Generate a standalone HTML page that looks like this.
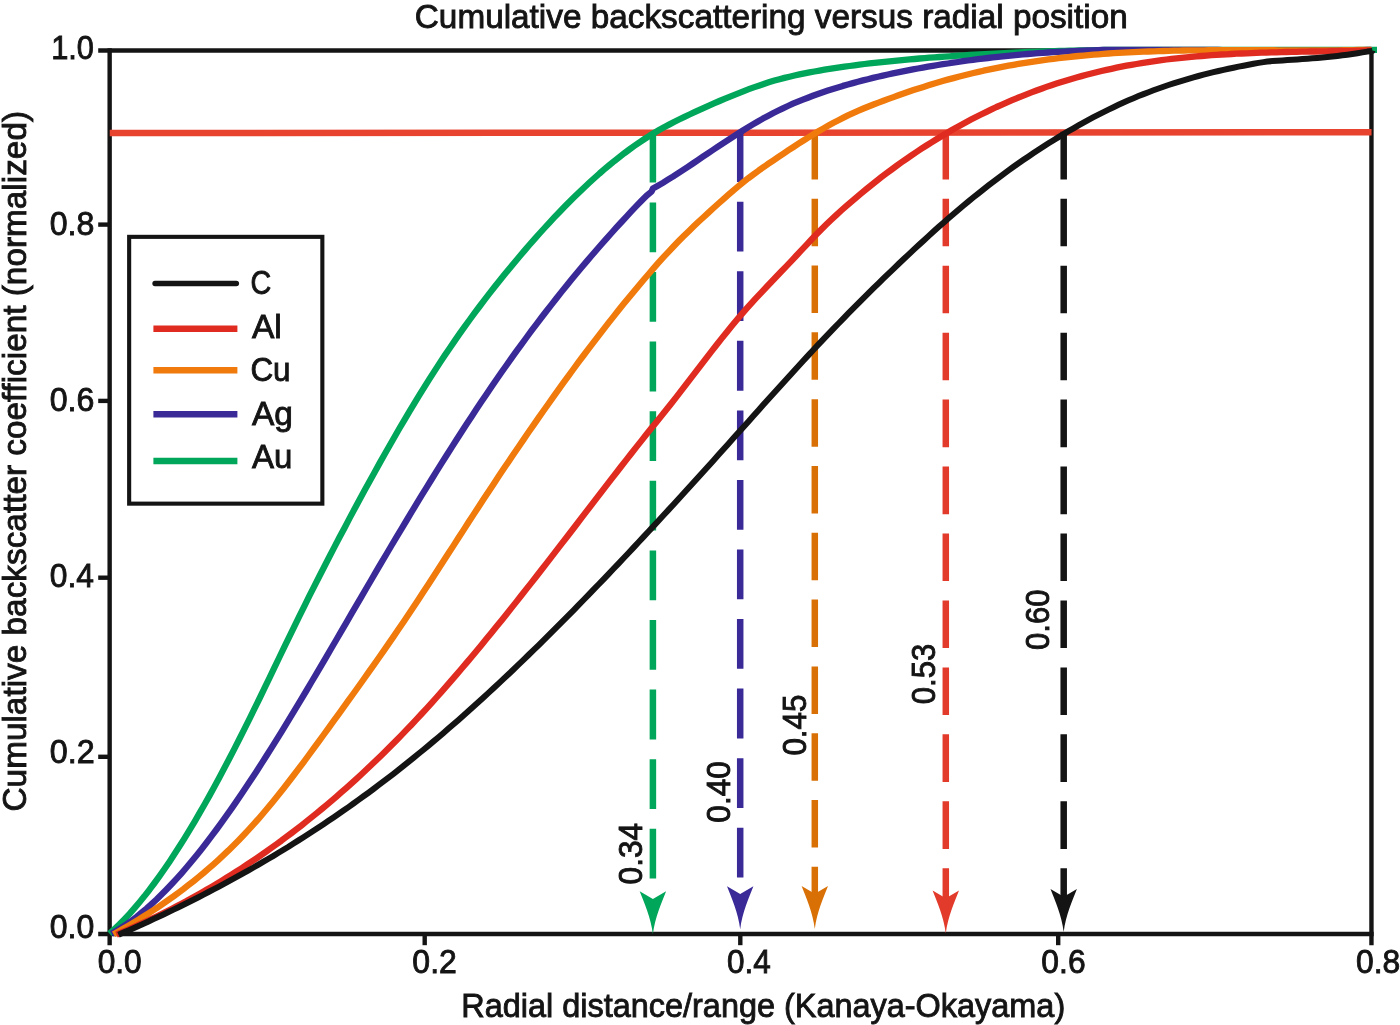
<!DOCTYPE html>
<html lang="en"><head><meta charset="utf-8">
<title>Cumulative backscattering versus radial position</title>
<style>
html,body{margin:0;padding:0;background:#fff;}
body{width:1400px;height:1025px;overflow:hidden;}
svg{display:block;}
text{font-family:'Liberation Sans', sans-serif;fill:#141414;stroke:#141414;stroke-width:0.90px;font-kerning:none;}
</style></head><body>
<svg width="1400" height="1025" viewBox="0 0 1400 1025">
<rect x="0" y="0" width="1400" height="1025" fill="#ffffff"/>
<g fill="none" stroke="#141414" stroke-width="4.40" stroke-linecap="butt">
<path d="M109.65 48.30 V945.2"/>
<path d="M1371.45 48.30 V945.2"/>
<path d="M98.2 50.50 H1373.65"/>
<path d="M98.2 934.00 H1373.65"/>
<path d="M424.70 934.00 V945.2"/>
<path d="M740.30 934.00 V945.2"/>
<path d="M1058.20 934.00 V945.2"/>
<path d="M98.2 756.80 H109.65"/>
<path d="M98.2 577.70 H109.65"/>
<path d="M98.2 400.90 H109.65"/>
<path d="M98.2 224.60 H109.65"/>
</g>
<path d="M109.75 133.1 L1371.55 132.2" stroke="#E8432E" stroke-width="6.5" fill="none"/>
<path d="M652.90 132.80 V878.60" stroke="#00A65A" stroke-width="6.5" stroke-dasharray="49.80 19.80" fill="none"/>
<path d="M652.90 934.30 C650.80 917.10 644.19 902.91 639.70 891.30 L652.90 899.10 L666.10 891.30 C661.61 902.91 655.00 917.10 652.90 934.30 Z" fill="#00A65A"/>
<path d="M740.20 132.20 V877.50" stroke="#392A98" stroke-width="6.5" stroke-dasharray="49.80 19.75" fill="none"/>
<path d="M740.20 929.20 C738.10 912.00 731.49 897.81 727.00 886.20 L740.20 894.00 L753.40 886.20 C748.91 897.81 742.30 912.00 740.20 929.20 Z" fill="#392A98"/>
<path d="M814.80 131.90 V905.00" stroke="#D97006" stroke-width="6.5" stroke-dasharray="47.50 19.31" fill="none"/>
<path d="M814.80 929.00 C812.70 911.80 806.09 897.61 801.60 886.00 L814.80 893.80 L828.00 886.00 C823.51 897.61 816.90 911.80 814.80 929.00 Z" fill="#D97006"/>
<path d="M945.80 131.80 V905.00" stroke="#E23A2B" stroke-width="6.5" stroke-dasharray="47.60 19.35" fill="none"/>
<path d="M945.80 933.50 C943.70 916.30 937.09 902.11 932.60 890.50 L945.80 898.30 L959.00 890.50 C954.51 902.11 947.90 916.30 945.80 933.50 Z" fill="#E23A2B"/>
<path d="M1063.70 131.80 V905.00" stroke="#141414" stroke-width="6.5" stroke-dasharray="47.60 19.35" fill="none"/>
<path d="M1063.70 932.00 C1061.60 914.80 1054.99 900.61 1050.50 889.00 L1063.70 896.80 L1076.90 889.00 C1072.41 900.61 1065.80 914.80 1063.70 932.00 Z" fill="#141414"/>
<path d="M109.5 933.6 L114.5 929.0 L119.5 924.2 L124.5 919.1 L129.5 913.8 L134.5 908.1 L139.5 902.2 L144.5 896.1 L149.5 889.7 L154.5 883.0 L159.5 876.1 L164.5 869.0 L169.5 861.7 L174.5 854.1 L179.5 846.3 L184.5 838.3 L189.5 830.2 L194.5 821.8 L199.5 813.2 L204.5 804.5 L209.5 795.6 L214.5 786.5 L219.5 777.2 L224.5 767.8 L229.5 758.3 L234.5 748.6 L239.5 738.8 L244.5 728.9 L249.5 718.8 L254.5 708.7 L259.5 698.5 L264.5 688.1 L269.5 677.8 L274.5 667.4 L279.5 657.0 L284.5 646.7 L289.5 636.3 L294.5 626.1 L299.5 615.9 L304.5 605.8 L309.5 595.7 L314.5 585.8 L319.5 576.0 L324.5 566.2 L329.5 556.5 L334.5 546.9 L339.5 537.3 L344.5 527.9 L349.5 518.4 L354.5 509.1 L359.5 499.8 L364.5 490.6 L369.5 481.5 L374.5 472.4 L379.5 463.4 L384.5 454.5 L389.5 445.7 L394.5 437.0 L399.5 428.3 L404.5 419.8 L409.5 411.4 L414.5 403.1 L419.5 394.9 L424.5 386.8 L429.5 378.9 L434.5 371.1 L439.5 363.4 L444.5 355.8 L449.5 348.4 L454.5 341.1 L459.5 333.9 L464.5 326.9 L469.5 320.0 L474.5 313.2 L479.5 306.5 L484.5 299.9 L489.5 293.4 L494.5 287.0 L499.5 280.7 L504.5 274.5 L509.5 268.4 L514.5 262.4 L519.5 256.5 L524.5 250.6 L529.5 244.8 L534.5 239.1 L539.5 233.5 L544.5 228.0 L549.5 222.6 L554.5 217.2 L559.5 212.0 L564.5 206.8 L569.5 201.7 L574.5 196.8 L579.5 191.9 L584.5 187.2 L589.5 182.5 L594.5 178.0 L599.5 173.5 L604.5 169.2 L609.5 165.0 L614.5 160.9 L619.5 157.0 L624.5 153.1 L629.5 149.4 L634.5 145.8 L639.5 142.3 L644.5 139.0 L649.5 135.8 L654.5 132.8 L659.5 129.8 L664.5 127.0 L669.5 124.4 L674.5 121.8 L679.5 119.3 L684.5 116.9 L689.5 114.5 L694.5 112.2 L699.5 109.9 L704.5 107.6 L709.5 105.4 L714.5 103.2 L719.5 101.0 L724.5 98.9 L729.5 96.8 L734.5 94.8 L739.5 92.8 L744.5 90.8 L749.5 88.9 L754.5 87.1 L759.5 85.4 L764.5 83.7 L769.5 82.1 L774.5 80.6 L779.5 79.2 L784.5 77.9 L789.5 76.7 L794.5 75.5 L799.5 74.4 L804.5 73.4 L809.5 72.4 L814.5 71.5 L819.5 70.6 L824.5 69.7 L829.5 68.9 L834.5 68.1 L839.5 67.4 L844.5 66.7 L849.5 66.0 L854.5 65.3 L859.5 64.7 L864.5 64.0 L869.5 63.4 L874.5 62.9 L879.5 62.3 L884.5 61.8 L889.5 61.3 L894.5 60.8 L899.5 60.3 L904.5 59.8 L909.5 59.4 L914.5 59.0 L919.5 58.5 L924.5 58.1 L929.5 57.7 L934.5 57.4 L939.5 57.0 L944.5 56.6 L949.5 56.3 L954.5 55.9 L959.5 55.6 L964.5 55.3 L969.5 55.0 L974.5 54.7 L979.5 54.4 L984.5 54.1 L989.5 53.9 L994.5 53.6 L999.5 53.3 L1004.5 53.1 L1009.5 52.9 L1014.5 52.6 L1019.5 52.4 L1024.5 52.2 L1029.5 52.0 L1034.5 51.8 L1039.5 51.7 L1044.5 51.5 L1049.5 51.3 L1054.5 51.2 L1059.5 51.0 L1064.5 50.9 L1069.5 50.7 L1074.5 50.6 L1079.5 50.5 L1084.5 50.4 L1089.5 50.3 L1094.5 50.1 L1099.5 50.1 L1104.5 50.0 L1109.5 49.9 L1114.5 49.8 L1119.5 49.8 L1124.5 49.8 L1129.5 49.8 L1134.5 49.8 L1139.5 49.8 L1144.5 49.8 L1149.5 49.8 L1154.5 49.8 L1159.5 49.8 L1164.5 49.8 L1169.5 49.8 L1174.5 49.8 L1179.5 49.8 L1184.5 49.8 L1189.5 49.8 L1194.5 49.8 L1199.5 49.8 L1204.5 49.8 L1209.5 49.8 L1214.5 49.8 L1219.5 49.8 L1224.5 49.8 L1229.5 49.8 L1234.5 49.8 L1239.5 49.8 L1244.5 49.8 L1249.5 49.8 L1254.5 49.8 L1259.5 49.8 L1264.5 49.8 L1269.5 49.8 L1274.5 49.8 L1279.5 49.8 L1284.5 49.8 L1289.5 49.8 L1294.5 49.8 L1299.5 49.8 L1304.5 49.8 L1309.5 49.8 L1314.5 49.8 L1319.5 49.8 L1324.5 49.8 L1329.5 49.8 L1334.5 49.8 L1339.5 49.8 L1344.5 49.8 L1349.5 49.8 L1354.5 49.8 L1359.5 49.8 L1364.5 49.8 L1369.5 49.8 L1374.5 49.8 L1377.0 49.8" stroke="#00A65A" stroke-width="6.3" fill="none" stroke-linejoin="round" stroke-linecap="butt"/>
<path d="M111.5 933.8 L116.5 930.8 L121.5 927.7 L126.5 924.3 L131.5 920.7 L136.5 916.9 L141.5 912.8 L146.5 908.6 L151.5 904.1 L156.5 899.5 L161.5 894.6 L166.5 889.5 L171.5 884.3 L176.5 878.9 L181.5 873.3 L186.5 867.5 L191.5 861.5 L196.5 855.4 L201.5 849.2 L206.5 842.8 L211.5 836.2 L216.5 829.5 L221.5 822.6 L226.5 815.7 L231.5 808.6 L236.5 801.4 L241.5 794.0 L246.5 786.6 L251.5 779.0 L256.5 771.4 L261.5 763.6 L266.5 755.8 L271.5 747.9 L276.5 739.9 L281.5 731.8 L286.5 723.6 L291.5 715.4 L296.5 707.2 L301.5 698.8 L306.5 690.5 L311.5 682.0 L316.5 673.6 L321.5 665.1 L326.5 656.6 L331.5 648.0 L336.5 639.5 L341.5 630.9 L346.5 622.3 L351.5 613.7 L356.5 605.1 L361.5 596.6 L366.5 588.0 L371.5 579.5 L376.5 570.9 L381.5 562.4 L386.5 554.0 L391.5 545.5 L396.5 537.1 L401.5 528.8 L406.5 520.5 L411.5 512.2 L416.5 503.9 L421.5 495.7 L426.5 487.6 L431.5 479.5 L436.5 471.4 L441.5 463.4 L446.5 455.5 L451.5 447.6 L456.5 439.8 L461.5 432.0 L466.5 424.3 L471.5 416.7 L476.5 409.1 L481.5 401.6 L486.5 394.2 L491.5 386.8 L496.5 379.5 L501.5 372.3 L506.5 365.2 L511.5 358.1 L516.5 351.1 L521.5 344.3 L526.5 337.5 L531.5 330.7 L536.5 324.1 L541.5 317.5 L546.5 311.0 L551.5 304.6 L556.5 298.2 L561.5 291.9 L566.5 285.7 L571.5 279.6 L576.5 273.5 L581.5 267.5 L586.5 261.6 L591.5 255.8 L596.5 250.0 L601.5 244.2 L606.5 238.6 L611.5 233.0 L616.5 227.4 L621.5 222.0 L626.5 216.6 L631.5 211.2 L636.5 205.9 L641.5 200.7 L646.5 195.7 L651.5 191.6 L652.9 188.6 L657.9 185.8 L662.9 182.9 L667.9 179.7 L672.9 176.6 L677.9 173.3 L682.9 170.1 L687.9 166.8 L692.9 163.5 L697.9 160.1 L702.9 156.7 L707.9 153.4 L712.9 150.0 L717.9 146.7 L722.9 143.4 L727.9 140.1 L732.9 136.8 L737.9 133.6 L742.9 130.5 L747.9 127.4 L752.9 124.4 L757.9 121.5 L762.9 118.6 L767.9 115.9 L772.9 113.2 L777.9 110.7 L782.9 108.3 L787.9 106.0 L792.9 103.7 L797.9 101.6 L802.9 99.6 L807.9 97.7 L812.9 95.8 L817.9 94.0 L822.9 92.3 L827.9 90.6 L832.9 89.0 L837.9 87.5 L842.9 85.9 L847.9 84.5 L852.9 83.1 L857.9 81.7 L862.9 80.4 L867.9 79.2 L872.9 77.9 L877.9 76.7 L882.9 75.6 L887.9 74.5 L892.9 73.4 L897.9 72.4 L902.9 71.4 L907.9 70.4 L912.9 69.4 L917.9 68.5 L922.9 67.6 L927.9 66.7 L932.9 65.9 L937.9 65.0 L942.9 64.2 L947.9 63.5 L952.9 62.7 L957.9 62.0 L962.9 61.2 L967.9 60.5 L972.9 59.9 L977.9 59.2 L982.9 58.6 L987.9 58.0 L992.9 57.4 L997.9 56.9 L1002.9 56.3 L1007.9 55.8 L1012.9 55.3 L1017.9 54.8 L1022.9 54.4 L1027.9 54.0 L1032.9 53.6 L1037.9 53.2 L1042.9 52.8 L1047.9 52.5 L1052.9 52.2 L1057.9 51.9 L1062.9 51.6 L1067.9 51.3 L1072.9 51.1 L1077.9 50.9 L1082.9 50.7 L1087.9 50.5 L1092.9 50.3 L1097.9 50.2 L1102.9 50.0 L1107.9 49.9 L1112.9 49.8 L1117.9 49.8 L1122.9 49.8 L1127.9 49.8 L1132.9 49.8 L1137.9 49.8 L1142.9 49.8 L1147.9 49.8 L1152.9 49.8 L1157.9 49.8 L1162.9 49.8 L1167.9 49.8 L1172.9 49.8 L1177.9 49.8 L1182.9 49.8 L1187.9 49.8 L1192.9 49.8 L1197.9 49.8 L1202.9 49.8 L1207.9 49.9 L1212.9 49.9 L1217.9 50.0 L1222.9 50.1 L1227.9 50.1 L1232.9 50.2 L1237.9 50.3 L1242.9 50.3 L1247.9 50.4 L1252.9 50.5 L1257.9 50.5 L1262.9 50.6 L1267.9 50.6 L1272.9 50.7 L1277.9 50.7 L1282.9 50.8 L1287.9 50.8 L1292.9 50.8 L1297.9 50.8 L1302.9 50.8 L1307.9 50.8 L1312.9 50.8 L1317.9 50.8 L1322.9 50.8 L1327.9 50.7 L1332.9 50.7 L1337.9 50.6 L1342.9 50.5 L1347.9 50.4 L1352.9 50.3 L1357.9 50.2 L1362.9 50.1 L1367.9 49.9 L1371.5 49.8" stroke="#392A98" stroke-width="6.3" fill="none" stroke-linejoin="round" stroke-linecap="butt"/>
<path d="M113.5 934.2 L118.5 931.4 L123.5 928.5 L128.5 925.6 L133.5 922.6 L138.5 919.6 L143.5 916.5 L148.5 913.3 L153.5 910.1 L158.5 906.8 L163.5 903.4 L168.5 899.9 L173.5 896.4 L178.5 892.7 L183.5 889.0 L188.5 885.1 L193.5 881.2 L198.5 877.1 L203.5 873.0 L208.5 868.7 L213.5 864.3 L218.5 859.8 L223.5 855.1 L228.5 850.4 L233.5 845.4 L238.5 840.4 L243.5 835.2 L248.5 829.9 L253.5 824.4 L258.5 818.8 L263.5 813.0 L268.5 807.0 L273.5 801.0 L278.5 794.8 L283.5 788.5 L288.5 782.0 L293.5 775.5 L298.5 768.9 L303.5 762.3 L308.5 755.5 L313.5 748.7 L318.5 741.9 L323.5 735.0 L328.5 728.1 L333.5 721.2 L338.5 714.3 L343.5 707.4 L348.5 700.4 L353.5 693.5 L358.5 686.5 L363.5 679.5 L368.5 672.4 L373.5 665.4 L378.5 658.2 L383.5 651.1 L388.5 643.9 L393.5 636.6 L398.5 629.3 L403.5 621.9 L408.5 614.5 L413.5 607.0 L418.5 599.4 L423.5 591.8 L428.5 584.2 L433.5 576.5 L438.5 568.8 L443.5 561.0 L448.5 553.3 L453.5 545.6 L458.5 537.8 L463.5 530.1 L468.5 522.3 L473.5 514.6 L478.5 507.0 L483.5 499.3 L488.5 491.7 L493.5 484.2 L498.5 476.6 L503.5 469.1 L508.5 461.7 L513.5 454.3 L518.5 446.9 L523.5 439.6 L528.5 432.3 L533.5 425.1 L538.5 417.9 L543.5 410.8 L548.5 403.7 L553.5 396.6 L558.5 389.6 L563.5 382.7 L568.5 375.8 L573.5 369.0 L578.5 362.2 L583.5 355.5 L588.5 348.9 L593.5 342.3 L598.5 335.8 L603.5 329.3 L608.5 322.9 L613.5 316.6 L618.5 310.3 L623.5 304.1 L628.5 298.0 L633.5 291.9 L638.5 285.9 L643.5 280.0 L648.5 274.2 L653.5 268.4 L658.5 262.7 L663.5 257.2 L668.5 251.8 L673.5 246.5 L678.5 241.3 L683.5 236.3 L688.5 231.4 L693.5 226.5 L698.5 221.8 L703.5 217.2 L708.5 212.6 L713.5 208.0 L718.5 203.5 L723.5 199.1 L728.5 194.7 L733.5 190.3 L738.5 186.1 L743.5 182.0 L748.5 178.1 L753.5 174.4 L758.5 170.7 L763.5 167.2 L768.5 163.7 L773.5 160.3 L778.5 156.9 L783.5 153.6 L788.5 150.2 L793.5 147.0 L798.5 143.7 L803.5 140.5 L808.5 137.4 L813.5 134.3 L818.5 131.3 L823.5 128.4 L828.5 125.6 L833.5 122.8 L838.5 120.2 L843.5 117.6 L848.5 115.1 L853.5 112.8 L858.5 110.6 L863.5 108.5 L868.5 106.5 L873.5 104.5 L878.5 102.6 L883.5 100.8 L888.5 98.9 L893.5 97.1 L898.5 95.3 L903.5 93.6 L908.5 91.8 L913.5 90.1 L918.5 88.5 L923.5 86.9 L928.5 85.3 L933.5 83.7 L938.5 82.3 L943.5 80.8 L948.5 79.4 L953.5 78.1 L958.5 76.7 L963.5 75.5 L968.5 74.2 L973.5 73.0 L978.5 71.9 L983.5 70.7 L988.5 69.7 L993.5 68.6 L998.5 67.6 L1003.5 66.6 L1008.5 65.7 L1013.5 64.8 L1018.5 63.9 L1023.5 63.1 L1028.5 62.3 L1033.5 61.6 L1038.5 60.8 L1043.5 60.1 L1048.5 59.4 L1053.5 58.8 L1058.5 58.2 L1063.5 57.6 L1068.5 57.1 L1073.5 56.5 L1078.5 56.0 L1083.5 55.6 L1088.5 55.1 L1093.5 54.7 L1098.5 54.3 L1103.5 53.9 L1108.5 53.5 L1113.5 53.2 L1118.5 52.9 L1123.5 52.6 L1128.5 52.3 L1133.5 52.1 L1138.5 51.9 L1143.5 51.7 L1148.5 51.5 L1153.5 51.3 L1158.5 51.1 L1163.5 51.0 L1168.5 50.8 L1173.5 50.7 L1178.5 50.6 L1183.5 50.5 L1188.5 50.4 L1193.5 50.4 L1198.5 50.3 L1203.5 50.3 L1208.5 50.2 L1213.5 50.2 L1218.5 50.2 L1223.5 50.1 L1228.5 50.1 L1233.5 50.1 L1238.5 50.1 L1243.5 50.1 L1248.5 50.2 L1253.5 50.2 L1258.5 50.2 L1263.5 50.2 L1268.5 50.2 L1273.5 50.2 L1278.5 50.3 L1283.5 50.3 L1288.5 50.3 L1293.5 50.3 L1298.5 50.3 L1303.5 50.3 L1308.5 50.3 L1313.5 50.3 L1318.5 50.3 L1323.5 50.3 L1328.5 50.3 L1333.5 50.3 L1338.5 50.3 L1343.5 50.2 L1348.5 50.2 L1353.5 50.1 L1358.5 50.0 L1363.5 50.0 L1368.5 49.9 L1371.5 49.8" stroke="#F07A0C" stroke-width="6.3" fill="none" stroke-linejoin="round" stroke-linecap="butt"/>
<path d="M116.5 934.6 L121.5 932.5 L126.5 930.3 L131.5 928.1 L136.5 925.9 L141.5 923.6 L146.5 921.3 L151.5 918.9 L156.5 916.5 L161.5 914.0 L166.5 911.5 L171.5 909.0 L176.5 906.4 L181.5 903.7 L186.5 901.1 L191.5 898.3 L196.5 895.5 L201.5 892.7 L206.5 889.8 L211.5 886.9 L216.5 883.9 L221.5 880.9 L226.5 877.8 L231.5 874.7 L236.5 871.5 L241.5 868.3 L246.5 865.0 L251.5 861.7 L256.5 858.3 L261.5 854.9 L266.5 851.4 L271.5 847.8 L276.5 844.2 L281.5 840.6 L286.5 836.8 L291.5 833.1 L296.5 829.3 L301.5 825.4 L306.5 821.4 L311.5 817.4 L316.5 813.4 L321.5 809.3 L326.5 805.1 L331.5 800.9 L336.5 796.6 L341.5 792.2 L346.5 787.8 L351.5 783.3 L356.5 778.8 L361.5 774.2 L366.5 769.5 L371.5 764.8 L376.5 760.0 L381.5 755.2 L386.5 750.3 L391.5 745.3 L396.5 740.2 L401.5 735.1 L406.5 729.9 L411.5 724.7 L416.5 719.4 L421.5 714.0 L426.5 708.6 L431.5 703.1 L436.5 697.5 L441.5 691.9 L446.5 686.2 L451.5 680.4 L456.5 674.6 L461.5 668.8 L466.5 662.9 L471.5 656.9 L476.5 651.0 L481.5 644.9 L486.5 638.8 L491.5 632.7 L496.5 626.6 L501.5 620.4 L506.5 614.2 L511.5 607.9 L516.5 601.6 L521.5 595.3 L526.5 588.9 L531.5 582.6 L536.5 576.2 L541.5 569.8 L546.5 563.3 L551.5 556.9 L556.5 550.4 L561.5 543.9 L566.5 537.5 L571.5 531.0 L576.5 524.5 L581.5 517.9 L586.5 511.4 L591.5 504.9 L596.5 498.4 L601.5 491.9 L606.5 485.4 L611.5 478.9 L616.5 472.5 L621.5 466.0 L626.5 459.6 L631.5 453.2 L636.5 446.9 L641.5 440.6 L646.5 434.3 L651.5 428.1 L656.5 421.9 L661.5 415.8 L666.5 409.5 L671.5 403.2 L676.5 396.9 L681.5 390.4 L686.5 383.9 L691.5 377.4 L696.5 370.9 L701.5 364.3 L706.5 357.8 L711.5 351.4 L716.5 345.0 L721.5 338.6 L726.5 332.4 L731.5 326.3 L736.5 320.3 L741.5 314.4 L746.5 308.7 L751.5 303.1 L756.5 297.7 L761.5 292.3 L766.5 287.0 L771.5 281.8 L776.5 276.5 L781.5 271.3 L786.5 266.1 L791.5 260.8 L796.5 255.5 L801.5 250.2 L806.5 244.8 L811.5 239.5 L816.5 234.3 L821.5 229.2 L826.5 224.3 L831.5 219.5 L836.5 214.9 L841.5 210.3 L846.5 205.9 L851.5 201.6 L856.5 197.3 L861.5 193.1 L866.5 189.0 L871.5 185.0 L876.5 181.0 L881.5 177.1 L886.5 173.3 L891.5 169.6 L896.5 165.9 L901.5 162.3 L906.5 158.8 L911.5 155.4 L916.5 152.0 L921.5 148.7 L926.5 145.5 L931.5 142.3 L936.5 139.2 L941.5 136.2 L946.5 133.2 L951.5 130.3 L956.5 127.4 L961.5 124.7 L966.5 122.0 L971.5 119.3 L976.5 116.7 L981.5 114.2 L986.5 111.8 L991.5 109.4 L996.5 107.0 L1001.5 104.8 L1006.5 102.6 L1011.5 100.4 L1016.5 98.3 L1021.5 96.3 L1026.5 94.3 L1031.5 92.4 L1036.5 90.5 L1041.5 88.7 L1046.5 86.9 L1051.5 85.2 L1056.5 83.6 L1061.5 82.0 L1066.5 80.4 L1071.5 78.9 L1076.5 77.5 L1081.5 76.1 L1086.5 74.8 L1091.5 73.5 L1096.5 72.2 L1101.5 71.0 L1106.5 69.9 L1111.5 68.8 L1116.5 67.7 L1121.5 66.7 L1126.5 65.7 L1131.5 64.8 L1136.5 64.0 L1141.5 63.1 L1146.5 62.3 L1151.5 61.6 L1156.5 60.9 L1161.5 60.2 L1166.5 59.5 L1171.5 58.9 L1176.5 58.4 L1181.5 57.8 L1186.5 57.3 L1191.5 56.8 L1196.5 56.4 L1201.5 56.0 L1206.5 55.6 L1211.5 55.2 L1216.5 54.9 L1221.5 54.5 L1226.5 54.3 L1231.5 54.0 L1236.5 53.7 L1241.5 53.5 L1246.5 53.3 L1251.5 53.1 L1256.5 52.9 L1261.5 52.7 L1266.5 52.6 L1271.5 52.4 L1276.5 52.3 L1281.5 52.1 L1286.5 52.0 L1291.5 51.9 L1296.5 51.8 L1301.5 51.7 L1306.5 51.6 L1311.5 51.5 L1316.5 51.5 L1321.5 51.4 L1326.5 51.3 L1331.5 51.2 L1336.5 51.1 L1341.5 51.0 L1346.5 50.9 L1351.5 50.8 L1356.5 50.7 L1361.5 50.6 L1366.5 50.4 L1371.5 50.3" stroke="#E02B20" stroke-width="6.3" fill="none" stroke-linejoin="round" stroke-linecap="butt"/>
<path d="M118.5 934.8 L123.5 932.6 L128.5 930.4 L133.5 928.2 L138.5 925.9 L143.5 923.7 L148.5 921.4 L153.5 919.1 L158.5 916.7 L163.5 914.4 L168.5 912.0 L173.5 909.6 L178.5 907.2 L183.5 904.7 L188.5 902.2 L193.5 899.7 L198.5 897.2 L203.5 894.6 L208.5 892.0 L213.5 889.4 L218.5 886.8 L223.5 884.1 L228.5 881.4 L233.5 878.7 L238.5 875.9 L243.5 873.1 L248.5 870.3 L253.5 867.5 L258.5 864.6 L263.5 861.7 L268.5 858.7 L273.5 855.8 L278.5 852.8 L283.5 849.7 L288.5 846.7 L293.5 843.5 L298.5 840.4 L303.5 837.2 L308.5 834.0 L313.5 830.8 L318.5 827.5 L323.5 824.2 L328.5 820.8 L333.5 817.4 L338.5 814.0 L343.5 810.6 L348.5 807.1 L353.5 803.5 L358.5 799.9 L363.5 796.3 L368.5 792.7 L373.5 789.0 L378.5 785.2 L383.5 781.4 L388.5 777.6 L393.5 773.8 L398.5 769.9 L403.5 765.9 L408.5 761.9 L413.5 757.9 L418.5 753.8 L423.5 749.7 L428.5 745.6 L433.5 741.4 L438.5 737.2 L443.5 732.9 L448.5 728.6 L453.5 724.3 L458.5 719.9 L463.5 715.5 L468.5 711.0 L473.5 706.5 L478.5 702.0 L483.5 697.5 L488.5 692.9 L493.5 688.3 L498.5 683.6 L503.5 678.9 L508.5 674.2 L513.5 669.5 L518.5 664.7 L523.5 659.9 L528.5 655.0 L533.5 650.2 L538.5 645.3 L543.5 640.4 L548.5 635.4 L553.5 630.4 L558.5 625.4 L563.5 620.4 L568.5 615.4 L573.5 610.3 L578.5 605.2 L583.5 600.0 L588.5 594.9 L593.5 589.7 L598.5 584.5 L603.5 579.3 L608.5 574.1 L613.5 568.8 L618.5 563.6 L623.5 558.3 L628.5 553.0 L633.5 547.6 L638.5 542.3 L643.5 536.9 L648.5 531.5 L653.5 526.1 L658.5 520.7 L663.5 515.3 L668.5 509.9 L673.5 504.4 L678.5 498.9 L683.5 493.5 L688.5 488.0 L693.5 482.5 L698.5 476.9 L703.5 471.4 L708.5 465.9 L713.5 460.4 L718.5 454.8 L723.5 449.2 L728.5 443.7 L733.5 438.1 L738.5 432.5 L743.5 426.9 L748.5 421.4 L753.5 415.8 L758.5 410.2 L763.5 404.6 L768.5 399.0 L773.5 393.5 L778.5 387.9 L783.5 382.4 L788.5 376.9 L793.5 371.4 L798.5 366.0 L803.5 360.5 L808.5 355.1 L813.5 349.8 L818.5 344.4 L823.5 339.1 L828.5 333.9 L833.5 328.7 L838.5 323.5 L843.5 318.3 L848.5 313.2 L853.5 308.2 L858.5 303.1 L863.5 298.1 L868.5 293.1 L873.5 288.2 L878.5 283.3 L883.5 278.4 L888.5 273.6 L893.5 268.8 L898.5 264.0 L903.5 259.3 L908.5 254.6 L913.5 249.9 L918.5 245.3 L923.5 240.7 L928.5 236.1 L933.5 231.6 L938.5 227.1 L943.5 222.7 L948.5 218.3 L953.5 214.0 L958.5 209.7 L963.5 205.5 L968.5 201.4 L973.5 197.3 L978.5 193.3 L983.5 189.3 L988.5 185.4 L993.5 181.6 L998.5 177.8 L1003.5 174.1 L1008.5 170.4 L1013.5 166.8 L1018.5 163.3 L1023.5 159.8 L1028.5 156.4 L1033.5 153.1 L1038.5 149.8 L1043.5 146.5 L1048.5 143.3 L1053.5 140.2 L1058.5 137.1 L1063.5 134.1 L1068.5 131.2 L1073.5 128.3 L1078.5 125.4 L1083.5 122.6 L1088.5 119.9 L1093.5 117.2 L1098.5 114.6 L1103.5 112.1 L1108.5 109.6 L1113.5 107.2 L1118.5 104.8 L1123.5 102.5 L1128.5 100.3 L1133.5 98.2 L1138.5 96.1 L1143.5 94.1 L1148.5 92.2 L1153.5 90.3 L1158.5 88.5 L1163.5 86.7 L1168.5 85.0 L1173.5 83.4 L1178.5 81.8 L1183.5 80.3 L1188.5 78.8 L1193.5 77.4 L1198.5 76.0 L1203.5 74.7 L1208.5 73.4 L1213.5 72.2 L1218.5 71.0 L1223.5 69.8 L1228.5 68.7 L1233.5 67.7 L1238.5 66.6 L1243.5 65.7 L1248.5 64.7 L1253.5 63.8 L1258.5 62.9 L1263.5 62.1 L1267.4 61.5 L1272.4 61.1 L1277.4 60.7 L1282.4 60.4 L1287.4 60.1 L1292.4 59.8 L1297.4 59.4 L1302.4 59.1 L1307.4 58.7 L1312.4 58.3 L1317.4 57.9 L1322.4 57.4 L1327.4 57.0 L1332.4 56.5 L1337.4 55.9 L1342.4 55.3 L1347.4 54.7 L1352.4 54.0 L1357.4 53.2 L1362.4 52.4 L1367.4 51.6 L1372.4 51.0 L1372.5 50.6" stroke="#141414" stroke-width="6.0" fill="none" stroke-linejoin="round" stroke-linecap="butt"/>
<rect x="129.15" y="236.85" width="193.20" height="266.80" fill="#fff" stroke="#141414" stroke-width="4.1"/>
<path d="M155 283.50 H236.4" stroke="#141414" stroke-width="5.3" stroke-linecap="round" fill="none"/>
<text x="250.54" y="294.20" font-size="34.00" textLength="20.75" lengthAdjust="spacingAndGlyphs">C</text>
<path d="M153.4 328.80 H237.4" stroke="#E02B20" stroke-width="6.5" fill="none"/>
<text x="251.93" y="337.60" font-size="34.00" textLength="29.81" lengthAdjust="spacingAndGlyphs">Al</text>
<path d="M153.4 370.20 H237.4" stroke="#F07A0C" stroke-width="6.5" fill="none"/>
<text x="250.40" y="381.20" font-size="34.00" textLength="40.18" lengthAdjust="spacingAndGlyphs">Cu</text>
<path d="M153.4 414.30 H237.4" stroke="#392A98" stroke-width="6.5" fill="none"/>
<text x="251.93" y="424.60" font-size="34.00" textLength="40.92" lengthAdjust="spacingAndGlyphs">Ag</text>
<path d="M153.4 460.90 H237.4" stroke="#00A65A" stroke-width="6.5" fill="none"/>
<text x="251.94" y="468.20" font-size="34.00" textLength="40.36" lengthAdjust="spacingAndGlyphs">Au</text>
<text x="49.75" y="938.30" font-size="34.00" textLength="44.50" lengthAdjust="spacingAndGlyphs">0.0</text>
<text x="49.74" y="762.50" font-size="34.00" textLength="44.89" lengthAdjust="spacingAndGlyphs">0.2</text>
<text x="49.76" y="586.60" font-size="34.00" textLength="44.17" lengthAdjust="spacingAndGlyphs">0.4</text>
<text x="49.74" y="410.70" font-size="34.00" textLength="44.67" lengthAdjust="spacingAndGlyphs">0.6</text>
<text x="49.75" y="234.90" font-size="34.00" textLength="44.65" lengthAdjust="spacingAndGlyphs">0.8</text>
<text x="51.15" y="59.00" font-size="34.00" textLength="42.85" lengthAdjust="spacingAndGlyphs">1.0</text>
<text x="97.66" y="973.30" font-size="34.00" textLength="44.08" lengthAdjust="spacingAndGlyphs">0.0</text>
<text x="412.35" y="973.30" font-size="34.00" textLength="44.46" lengthAdjust="spacingAndGlyphs">0.2</text>
<text x="727.07" y="973.30" font-size="34.00" textLength="43.75" lengthAdjust="spacingAndGlyphs">0.4</text>
<text x="1041.36" y="973.30" font-size="34.00" textLength="44.24" lengthAdjust="spacingAndGlyphs">0.6</text>
<text x="1356.06" y="973.30" font-size="34.00" textLength="44.23" lengthAdjust="spacingAndGlyphs">0.8</text>
<text transform="translate(642.00 883.20) rotate(-90)" x="-1.24" y="0" font-size="34.00" textLength="61.67" lengthAdjust="spacingAndGlyphs">0.34</text>
<text transform="translate(730.00 821.40) rotate(-90)" x="-1.24" y="0" font-size="34.00" textLength="61.57" lengthAdjust="spacingAndGlyphs">0.40</text>
<text transform="translate(806.20 754.40) rotate(-90)" x="-1.23" y="0" font-size="34.00" textLength="61.15" lengthAdjust="spacingAndGlyphs">0.45</text>
<text transform="translate(935.10 703.10) rotate(-90)" x="-1.22" y="0" font-size="34.00" textLength="60.58" lengthAdjust="spacingAndGlyphs">0.53</text>
<text transform="translate(1048.70 648.80) rotate(-90)" x="-1.21" y="0" font-size="34.00" textLength="60.43" lengthAdjust="spacingAndGlyphs">0.60</text>
<text x="414.81" y="28.40" font-size="34.00" textLength="712.96" lengthAdjust="spacingAndGlyphs">Cumulative backscattering versus radial position</text>
<text x="461.34" y="1017.00" font-size="34.00" textLength="603.87" lengthAdjust="spacingAndGlyphs">Radial distance/range (Kanaya-Okayama)</text>
<text transform="translate(26.00 809.80) rotate(-90)" x="-1.69" y="0" font-size="34.00" textLength="700.56" lengthAdjust="spacingAndGlyphs">Cumulative backscatter coefficient (normalized)</text>
</svg>
</body></html>
